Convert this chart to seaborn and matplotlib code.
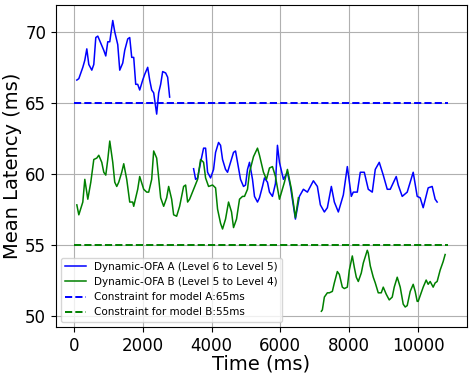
import matplotlib
matplotlib.use("Agg")
import matplotlib.pyplot as plt
import seaborn as sns
import numpy as np
import pandas as pd

# model A, first segment
a1_t = [87, 145, 261, 319, 377, 435, 522, 580, 638, 696, 783, 870, 928, 986, 1044, 1131, 1189,
        1276, 1334, 1421, 1479, 1566, 1624, 1682, 1740, 1798, 1856, 1914, 2001, 2059, 2146,
        2204, 2262, 2320, 2407, 2465, 2523, 2581, 2668, 2726, 2784]
a1_v = [66.6, 66.7, 67.5, 68.0, 68.8, 67.7, 67.3, 67.7, 69.6, 69.7, 69.2, 68.7, 68.3, 69.3, 69.3,
        70.8, 70.0, 69.1, 67.3, 67.8, 68.7, 69.5, 69.6, 68.2, 68.2, 66.3, 66.3, 65.9, 66.6, 67.0,
        67.5, 66.6, 65.9, 65.7, 64.2, 65.7, 66.3, 67.2, 67.1, 66.8, 65.4]
# model A, second segment
a2_t = [3480, 3538, 3596, 3683, 3770, 3828, 3886, 3973, 4060, 4118, 4205, 4263, 4321, 4408, 4466,
        4553, 4640, 4698, 4756, 4843, 4930, 4988, 5046, 5104, 5191, 5249, 5336, 5394, 5481, 5539,
        5626, 5684, 5771, 5858, 5916, 5974, 6090, 6206, 6293, 6438, 6554, 6670, 6786, 6873, 6960,
        7076, 7163, 7279, 7366, 7482, 7569, 7685, 7830, 7946, 8062, 8120, 8236, 8323, 8439, 8555,
        8671, 8758, 8874, 8990, 9106, 9193, 9367, 9425, 9541, 9686, 9860, 9976, 10063, 10150,
        10295, 10411, 10498, 10556]
a2_v = [60.35, 59.6, 59.7, 60.8, 61.8, 61.8, 60.1, 59.7, 60.3, 61.5, 62.2, 62.0, 61.0, 60.3, 60.1,
        60.8, 61.5, 61.6, 60.8, 59.6, 59.1, 59.2, 60.3, 60.8, 59.6, 58.4, 58.0, 58.3, 59.1, 59.7,
        59.4, 58.7, 58.4, 59.3, 62.0, 60.8, 59.6, 60.1, 59.1, 56.8, 58.4, 58.9, 58.7, 59.1, 59.5,
        59.1, 57.8, 57.3, 57.6, 59.1, 58.0, 57.3, 58.5, 60.5, 58.4, 58.7, 58.7, 60.1, 60.1, 58.9,
        58.7, 60.3, 60.8, 59.9, 58.9, 58.9, 59.8, 59.2, 58.4, 58.7, 60.1, 58.4, 58.3, 57.6,
        59.0, 59.1, 58.2, 58.0]
# model B, first segment
b1_t = [87, 145, 261, 319, 406, 493, 580, 667, 725, 812, 870, 928, 986, 1044, 1131, 1189, 1247,
        1305, 1392, 1450, 1537, 1624, 1711, 1740, 1856, 1914, 2030, 2117, 2175, 2262, 2320, 2407,
        2465, 2523, 2610, 2697, 2755, 2842, 2900, 2987, 3074, 3190, 3248, 3306, 3364, 3480, 3596,
        3683, 3770, 3828, 3915, 4031, 4118, 4176, 4263, 4321, 4408, 4495, 4582, 4640, 4727, 4814,
        4901, 4959, 5046, 5104, 5220, 5336, 5394, 5510, 5597, 5684, 5771, 5858, 5974, 6119, 6206,
        6322, 6438, 6525]
b1_v = [57.8, 57.1, 58.0, 59.6, 58.2, 59.4, 61.0, 61.1, 61.3, 60.8, 60.1, 59.9, 61.0, 62.3, 60.8,
        59.4, 59.1, 59.4, 60.1, 60.7, 59.6, 58.0, 58.0, 57.7, 58.9, 59.8, 58.9, 58.7, 58.7, 59.6,
        61.6, 61.1, 59.7, 58.3, 57.7, 58.3, 59.1, 58.2, 57.1, 57.0, 57.7, 59.1, 59.2, 58.0, 58.2,
        58.9, 59.6, 61.0, 60.8, 59.7, 59.1, 59.2, 59.0, 57.5, 56.5, 56.1, 56.8, 58.0, 57.3, 56.2,
        56.8, 58.2, 58.4, 58.4, 58.9, 60.1, 61.2, 61.8, 61.3, 60.1, 59.6, 60.4, 60.5, 59.8, 58.2,
        59.4, 60.3, 58.9, 56.9, 58.3]
# model B, second segment
b2_t = [7192, 7221, 7279, 7366, 7424, 7511, 7569, 7656, 7714, 7801, 7859, 7946, 8004, 8091, 8149,
        8207, 8265, 8352, 8410, 8526, 8555, 8613, 8700, 8758, 8845, 8932, 8990, 9077, 9164, 9251,
        9309, 9396, 9483, 9570, 9628, 9686, 9773, 9860, 9918, 9976, 10005, 10092, 10150, 10237,
        10295, 10353, 10440, 10498, 10556, 10643, 10730, 10788]
b2_v = [50.3, 50.4, 51.3, 51.6, 51.6, 51.7, 52.3, 53.1, 52.9, 52.0, 51.9, 52.0, 53.2, 54.2, 53.4,
        52.7, 52.4, 53.0, 53.7, 54.6, 54.4, 53.5, 52.7, 52.3, 51.6, 51.6, 52.0, 51.5, 51.1, 51.3,
        52.0, 52.7, 52.0, 50.8, 50.6, 50.7, 51.7, 52.2, 51.7, 51.0, 51.0, 51.6, 52.0, 52.5,
        52.2, 52.4, 52.0, 52.3, 52.4, 53.2, 53.8, 54.3]

constr_t = [0, 10880]
constr_a = 65
constr_b = 55

fig = plt.figure(figsize=(4.74, 3.77), dpi=100)
ax = fig.add_subplot(111)

sns.lineplot(x=a1_t, y=a1_v, color='blue', lw=1.1, estimator=None, sort=False,
             label='Dynamic-OFA A (Level 6 to Level 5)', ax=ax)
sns.lineplot(x=a2_t, y=a2_v, color='blue', lw=1.1, estimator=None, sort=False, ax=ax)
sns.lineplot(x=b1_t, y=b1_v, color='green', lw=1.1, estimator=None, sort=False,
             label='Dynamic-OFA B (Level 5 to Level 4)', ax=ax)
sns.lineplot(x=b2_t, y=b2_v, color='green', lw=1.1, estimator=None, sort=False, ax=ax)
ax.plot(constr_t, [constr_a, constr_a], color='blue', linestyle='--', lw=1.4,
        label='Constraint for model A:65ms')
ax.plot(constr_t, [constr_b, constr_b], color='green', linestyle='--', lw=1.4,
        label='Constraint for model B:55ms')

ax.grid(True)
ax.set_xlim(-520, 11420)
ax.set_ylim(49.2, 71.9)
ax.set_xlabel('Time (ms)', fontsize=14, labelpad=0)
ax.set_ylabel('Mean Latency (ms)', fontsize=14, labelpad=2)
ax.tick_params(labelsize=12)
ax.set_yticks([50, 55, 60, 65, 70])
ax.set_xticks([0, 2000, 4000, 6000, 8000, 10000])
ax.legend(loc='lower left', fontsize=7.5, handlelength=2)

fig.subplots_adjust(left=0.118, right=0.985, top=0.987, bottom=0.133)
fig.savefig('out.png', dpi=100)
plt.close()
